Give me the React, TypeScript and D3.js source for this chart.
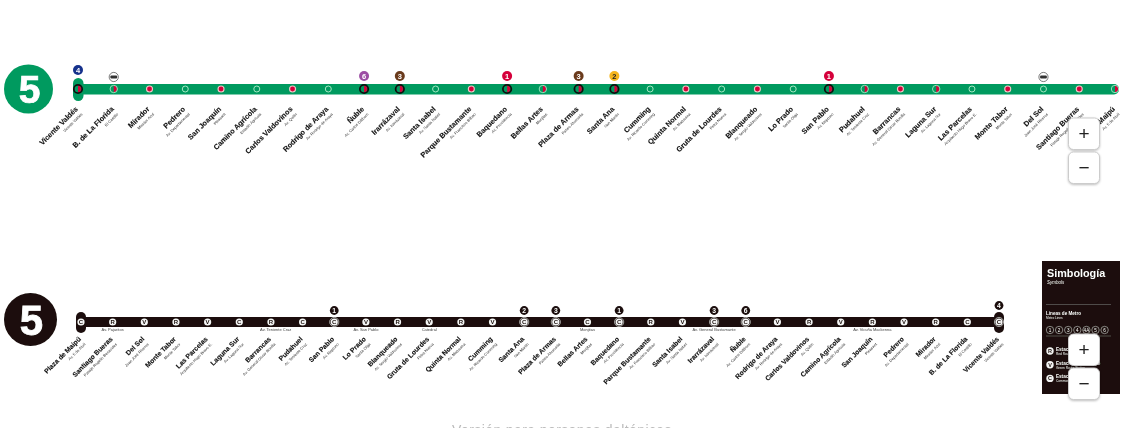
import React from "react";
import * as d3 from "d3";

const stations = ["Vicente Valdés","B. de La Florida","Mirador","Pedrero","San Joaquín","Camino Agrícola","Carlos Valdovinos","Rodrigo de Araya","Ñuble","Irarrázaval","Santa Isabel","Parque Bustamante","Baquedano","Bellas Artes","Plaza de Armas","Santa Ana","Cumming","Quinta Normal","Gruta de Lourdes","Blanqueado","Lo Prado","San Pablo","Pudahuel","Barrancas","Laguna Sur","Las Parcelas","Monte Tabor","Del Sol","Santiago Bueras","Maipú"];
const bottomNames = ["Plaza de Maipú",...stations.slice(0,29).reverse()];
const streets = ["Vicente Valdés","El Castillo","Mirador Azul","Av. Departamental","Pleasant","Estadio Agrícola","Av. Quilín","Av. Rodrigo de Araya","Av. Carlos Dittborn","Av. Irarrázaval","Av. Santa Isabel","Av. Francisco Bilbao","Av. Providencia","Monjitas","Paseo Ahumada","San Martín","Av. Ricardo Cumming","Av. Matucana","Petra Nueva","Av. Sergio Valdovinos","Santa Olga","Av. Neptuno","Av. Teniente Cruz","Av. General Oscar Bonilla","Av. Laguna Sur","Arquitecto Hugo Bravo E.","Monte Tabor","Juan José Riveros","Pasaje Rogelio Benavides","Av. 5 de Abril"];
const bottomStreets = [...streets].reverse();
const kinds = "ICRVRVRVIIVRICIIVRVRVICRCVRVRC".split("");
const bottomKinds = "CRVRVCRCCVRVRVCCCCRVCCVRVRVRCC".split("");
const topBadges: [number,string,string,string][] = [[0,"4","#15308c","#fff"],[8,"6","#9c4ea3","#fff"],[9,"3","#6a3a1e","#fff"],[12,"1","#d5063a","#fff"],[14,"3","#6a3a1e","#fff"],[15,"2","#f5b51c","#222"],[21,"1","#d5063a","#fff"]];
const trainBadges = [1,27];
const bottomBadges: [number,string][] = [[8,"1"],[14,"2"],[15,"3"],[17,"1"],[20,"3"],[21,"6"],[29,"4"]];
const roadLabels: [number,string][] = [[1,"Av. Pajaritos"],[6.15,"Av. Teniente Cruz"],[9,"Av. San Pablo"],[11,"Catedral"],[16,"Monjitas"],[20,"Av. General Bustamante"],[25,"Av. Vicuña Mackenna"]];
const legendLines = ["1","2","3","4","4A","5","6"];
const legendRows: [string,string,string][] = [["R","Estación Ruta Roja","Red Route"],["V","Estación Ruta Verde","Green Route Station"],["C","Estación Común","Common Station"]];

const GREEN="#009a5e", RED="#d5063a", BLACK="#1b110d", SANS="'Liberation Sans', Arial, sans-serif";

function Label({x,y,name,sub,size}:{x:number,y:number,name:string,sub:string,size:number}){
  return <g transform={`translate(${x},${y}) rotate(-45)`} fontFamily={SANS} textAnchor="end">
    <text fontSize={size} fontWeight={700} fill="#111" stroke="#111" strokeWidth={0.12}>{name}</text>
    <text x={-0.5} y={6.6} fontSize={3.9} fill="#333">{sub}</text>
  </g>;
}
function ZoomButtons({y}:{y:number}){
  const b=(yy:number,t:string)=><g key={t}>
    <rect x={1068.5} y={yy} width={31} height={31.5} rx={5} fill="#fff" stroke="#ccc" strokeWidth={1} style={{filter:"drop-shadow(0 1px 1px rgba(0,0,0,0.25))"}}/>
    <text x={1084} y={yy+22} textAnchor="middle" fontFamily={SANS} fontSize={19} fill="#222">{t}</text></g>;
  return <g>{b(y,"+")}{b(y+34,"−")}</g>;
}
export default function App(){
  const top=d3.scalePoint<number>().domain(d3.range(30)).range([78,1115]);
  const bot=d3.scalePoint<number>().domain(d3.range(30)).range([81,999]);
  const botLin=d3.scaleLinear().domain([0,29]).range([81,999]);
  const yT=89,yB=322;
  return <svg width={1122} height={428} style={{position:"absolute",left:0,top:0,display:"block"}}>
    <defs><filter id="soft" x="-5%" y="-5%" width="110%" height="110%"><feGaussianBlur stdDeviation="0.3"/></filter></defs>
    <rect width={1122} height={428} fill="#fff"/>
    <g filter="url(#soft)">
    <circle cx={28.5} cy={89} r={24.5} fill={GREEN}/>
    <text x={29.5} y={103} textAnchor="middle" fontFamily={SANS} fontWeight={700} fontSize={39} fill="#fff" stroke="#fff" strokeWidth={0.7}>5</text>
    <rect x={73} y={84} width={1046} height={10.5} rx={5} fill={GREEN}/>
    <rect x={73} y={78} width={10.5} height={23} rx={5.2} fill={GREEN}/>
    {kinds.map((k,i)=>{const x=top(i)!;
      if(k==="R")return <circle key={i} cx={x} cy={yT} r={3} fill={RED} stroke="#f0c8c8" strokeWidth={1.1}/>;
      if(k==="V")return <circle key={i} cx={x} cy={yT} r={3} fill={GREEN} stroke="#a6e8c4" strokeWidth={1}/>;
      const half=<g><circle cx={x} cy={yT} r={3.2} fill={GREEN}/><path d={`M${x},${yT-3.2}A3.2,3.2 0 0 1 ${x},${yT+3.2}Z`} fill={RED}/></g>;
      return <g key={i}>{half}<circle cx={x} cy={yT} r={k==="I"?4.2:3.7} fill="none" stroke={k==="I"?"#111":"#a6e8c4"} strokeWidth={k==="I"?1.8:0.9}/></g>;
    })}
    {topBadges.map(([i,t,c,f])=><g key={i}>
      <circle cx={top(i)!} cy={i===0?70:76} r={5} fill={c}/>
      <text x={top(i)!} y={(i===0?70:76)+2.6} textAnchor="middle" fontFamily={SANS} fontWeight={700} fontSize={7.5} fill={f}>{t}</text></g>)}
    {trainBadges.map(i=><g key={i}>
      <circle cx={top(i)!} cy={77} r={4.6} fill="#fff" stroke="#444" strokeWidth={0.7}/>
      <rect x={top(i)!-3.4} y={75.6} width={6.8} height={2.8} rx={1} fill="#333"/></g>)}
    {stations.map((s,i)=><Label key={s} x={top(i)!+0.5} y={109.5} size={7.3} name={s} sub={streets[i]}/>)}

    <circle cx={30.5} cy={319.5} r={26.5} fill={BLACK}/>
    <text x={31.5} y={335} textAnchor="middle" fontFamily={SANS} fontWeight={700} fontSize={42} fill="#fff" stroke="#fff" strokeWidth={0.8}>5</text>
    <rect x={81} y={317} width={918} height={10} fill={BLACK}/>
    <rect x={76} y={312} width={10} height={21} rx={5} fill={BLACK}/>
    <rect x={994} y={312} width={10} height={21} rx={5} fill={BLACK}/>
    {bottomKinds.map((k,i)=>{const x=bot(i)!; const ring=bottomBadges.some(b=>b[0]===i);
      return <g key={i}>
        {ring&&<circle cx={x} cy={yB} r={4.6} fill="none" stroke="#ddd" strokeWidth={0.7}/>}
        <circle cx={x} cy={yB} r={3.6} fill="#f6f6f6"/>
        <text x={x} y={yB+2.1} textAnchor="middle" fontFamily={SANS} fontWeight={700} fontSize={6} fill={BLACK}>{k}</text></g>;})}
    {bottomBadges.map(([i,t])=><g key={i}>
      <circle cx={bot(i)!} cy={i===29?305.5:310.5} r={4.4} fill={BLACK}/>
      <text x={bot(i)!} y={(i===29?305.5:310.5)+2.4} textAnchor="middle" fontFamily={SANS} fontWeight={700} fontSize={6.8} fill="#fff">{t}</text></g>)}
    {roadLabels.map(([i,t])=><text key={t} x={botLin(i)} y={331} textAnchor="middle" fontFamily={SANS} fontSize={4} fill="#444">{t}</text>)}
    {bottomNames.map((s,i)=><Label key={s} x={bot(i)!+0.5} y={339.5} size={6.8} name={s} sub={bottomStreets[i]}/>)}

    <rect x={1042} y={261} width={78} height={133} fill={BLACK}/>
    <g fontFamily={SANS} fill="#fff">
      <text x={1047} y={277} fontSize={10.8} fontWeight={700}>Simbología</text>
      <text x={1047} y={284} fontSize={4.5} fontStyle="italic">Symbols</text>
      <line x1={1046} x2={1111} y1={304.5} y2={304.5} stroke="#666" strokeWidth={0.7}/>
      <text x={1046} y={315} fontSize={4.6} fontWeight={700}>Líneas de Metro</text>
      <text x={1046} y={319} fontSize={3.2}>Metro Lines</text>
      {legendLines.map((l,i)=><g key={l}>
        <circle cx={1050+i*9.1} cy={330} r={3.7} fill="none" stroke="#ccc" strokeWidth={0.6}/>
        <text x={1050+i*9.1} y={331.8} textAnchor="middle" fontSize={4.6}>{l}</text></g>)}
      <line x1={1046} x2={1111} y1={336} y2={336} stroke="#666" strokeWidth={0.7}/>
      {legendRows.map(([k,a,b],i)=><g key={k}>
        <circle cx={1050} cy={351+i*13.7} r={3.7} fill="#f4f4f4"/>
        <text x={1050} y={353+i*13.7} textAnchor="middle" fontSize={5.5} fontWeight={700} fill={BLACK}>{k}</text>
        <text x={1056} y={351+i*13.7} fontSize={4.6} fontWeight={700}>{a}</text>
        <text x={1056} y={355+i*13.7} fontSize={3.2}>{b}</text></g>)}
    </g>
    <text x={562} y={434.5} textAnchor="middle" fontFamily={SANS} fontSize={14} fill="#bbb" letterSpacing={0.4}>Versión para personas daltónicas</text>
    </g>
    <ZoomButtons y={118}/>
    <ZoomButtons y={334}/>
  </svg>;
}
